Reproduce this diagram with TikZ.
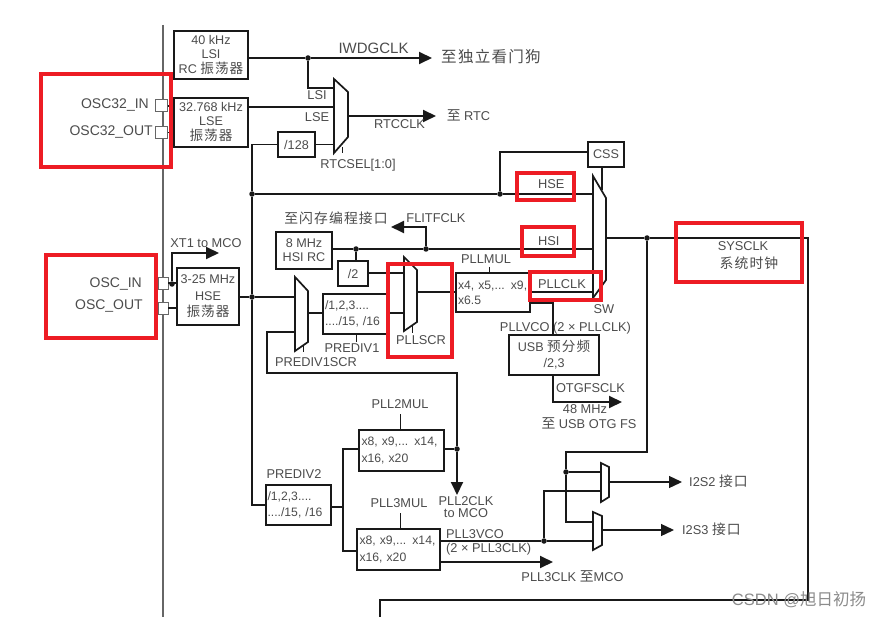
\documentclass[tikz,border=0pt]{standalone}
\usepackage{fontspec}
\setmainfont{Liberation Sans}
\newfontfamily\cjk[Scale=1.08,LetterSpace=8]{Noto Sans CJK SC}
\newfontfamily\cjw{Noto Sans CJK SC}
\usetikzlibrary{arrows.meta}
\colorlet{ink}{black!90}
\colorlet{txt}{black!70}
\definecolor{mark}{RGB}{237,28,36}
\tikzset{
  x=1pt,y=-1pt,
  box/.style={draw=ink,line width=2pt,fill=white,inner sep=0pt,outer sep=0pt,text=txt,font=\fontsize{12.6}{14}\selectfont,align=center},
  opt/.style={box,font=\fontsize{12.2}{15}\selectfont,align=left},
  pad/.style={draw=black!60,line width=1pt,fill=white,minimum width=12pt,minimum height=12pt,inner sep=0pt,outer sep=0pt},
  lab/.style={text=txt,font=\fontsize{12.8}{15}\selectfont,inner sep=0pt,align=center},
  pin/.style={lab,font=\fontsize{14}{16}\selectfont},
  wire/.style={draw=ink,line width=1.9pt,line join=miter},
  thin wire/.style={draw=ink,line width=1pt},
  arrowed/.style={wire,-{Triangle[length=13pt,width=12pt]}},
  muxs/.style={draw=ink,line width=1.7pt,fill=white,line join=miter},
  dot/.style={circle,fill=ink,minimum size=5.5pt,inner sep=0pt,outer sep=0pt},
  redbox/.style={draw=mark,line width=4pt,fill=none},
}
\newcommand{\cj}[1]{{\cjk #1}}
\begin{document}
\begin{tikzpicture}
\useasboundingbox[fill=white] (0,0) rectangle (882,617);
% pin rail
\draw[draw=black!60,line width=1.2pt] (163,25) -- (163,617);

% nodes: boxes
\node[box,minimum width=74pt,minimum height=48pt] (lsi) at (211,55) {40 kHz\\LSI\\[1pt]RC \cj{振荡器}};
\node[box,minimum width=74pt,minimum height=49pt] (lse) at (211,122.5) {32.768 kHz\\LSE\\[1pt]\cj{振荡器}};
\node[box,minimum width=37pt,minimum height=25pt] (d128) at (296.5,144.5) {/128};
\node[box,minimum width=36pt,minimum height=25pt] (css) at (606,154.5) {CSS};
\node[box,minimum width=62pt,minimum height=57pt] (hse) at (208,296.5) {3-25 MHz\\[3pt]HSE\\[2pt]\cj{振荡器}};
\node[box,minimum width=56pt,minimum height=37pt] (hsi) at (304,250.5) {8 MHz\\HSI RC};
\node[box,minimum width=30pt,minimum height=25pt] (d2) at (353,273.5) {/2};
\node[opt,minimum width=66pt,minimum height=40pt,text width=62pt] (pd1) at (356,314) {/1,2,3....\\[1pt]..../15, /16};
\node[opt,minimum width=74pt,minimum height=39pt,text width=70pt] (pllmul) at (493,292.5) {x4, x5,... x9,\\x6.5};
\node[box,minimum width=90pt,minimum height=40pt] (usb) at (554,355) {USB \cj{预分频}\\[2pt]/2,3};
\node[opt,minimum width=65pt,minimum height=40pt,text width=62pt] (pd2) at (298.5,505) {/1,2,3....\\[1pt]..../15, /16};
\node[opt,minimum width=85pt,minimum height=41pt,text width=80pt] (p2m) at (401.5,450.5) {x8, x9,... x14,\\[2pt]x16, x20};
\node[opt,minimum width=83pt,minimum height=41pt,text width=78pt] (p3m) at (398.5,549.5) {x8, x9,... x14,\\[2pt]x16, x20};

% pads
\node[pad] (o32i) at (161.5,106) {};
\node[pad] (o32o) at (161.5,132.5) {};
\node[pad,minimum width=10pt] (oi) at (163,283) {};
\node[pad,minimum width=10pt] (oo) at (163,308) {};

% junctions
\node[dot] (j1) at (308,58) {};
\node[dot] (j2) at (252,194) {};
\node[dot] (j3) at (500,194) {};
\node[dot] (j4) at (172,284) {};
\node[dot] (j5) at (252,297) {};
\node[dot] (j6) at (356,249) {};
\node[dot] (j7) at (426,249) {};
\node[dot] (j8) at (647,238) {};
\node[dot] (j9) at (457,449) {};
\node[dot] (j10) at (544,541) {};
\node[dot] (j11) at (566,472) {};

% free ends
\coordinate (iwdg) at (432,58);
\coordinate (rtc) at (436,116);
\coordinate (xt1) at (219,253);
\coordinate (fl) at (391,227);
\coordinate (otg) at (622,402);
\coordinate (p2out) at (457,495);
\coordinate (p3out) at (553,562);
\coordinate (i2s2) at (682,482);
\coordinate (i2s3) at (674,530);
\coordinate (bl) at (380,617);

% mux input and output points
\coordinate (rtcA) at (334,88);
\coordinate (rtcB) at (334,107);
\coordinate (rtcC) at (334,144.5);
\coordinate (rtcO) at (348,116);
\coordinate (swH) at (593,194);
\coordinate (swI) at (593,249);
\coordinate (swP) at (593,292);
\coordinate (swO) at (606,238);
\coordinate (swT) at (602,190);
\coordinate (psA) at (295,297);
\coordinate (psB) at (295,332);
\coordinate (psO) at (308,313);
\coordinate (plA) at (404,273);
\coordinate (plB) at (404,313);
\coordinate (plO) at (417,292);
\coordinate (s2A) at (601,472);
\coordinate (s2B) at (601,491);
\coordinate (s2O) at (609,482);
\coordinate (s3A) at (593,522);
\coordinate (s3B) at (593,541);
\coordinate (s3O) at (602,530);

% connectors
\draw[wire] (lsi.east |- j1) -- (j1);
\draw[arrowed] (j1) -- (iwdg);
\draw[wire] (j1) |- (rtcA);
\draw[wire] (lse.east |- rtcB) -- (rtcB);
\draw[wire] (d128.east) -- (rtcC);
\draw[arrowed] (rtcO) -- (rtc);
\draw[wire] (d128.west) -- (252,144.5) -- (j2);
\draw[wire] (j2) -- (j5);
\draw[wire] (j5) |- (pd2.west);
\draw[wire] (j2) -- (j3);
\draw[wire] (j3) -- (swH);
\draw[wire] (j3) |- (css.west |- 0,152);
\draw[wire] (css.south -| swT) -- (swT);
\draw[wire] (o32i.east) -- (lse.west |- o32i.east);
\draw[wire] (o32o.east) -- (lse.west |- o32o.east);
\draw[wire] (oi.east) -- (hse.west |- oi.east);
\draw[wire] (oo.east) -- (hse.west |- oo.east);
\draw[arrowed] (j4) |- (xt1);
\draw[wire] (hse.east |- j5) -- (j5);
\draw[wire] (j5) -- (psA);
\draw[wire] (psO) -- (pd1.west |- psO);
\draw[wire] (pd1.east |- plB) -- (plB);
\draw[wire] (d2.east |- plA) -- (plA);
\draw[wire] (j6) -- (d2.north -| j6);
\draw[wire] (hsi.east |- j6) -- (j6) -- (j7) -- (swI);
\draw[arrowed] (j7) |- (fl);
\draw[wire] (plO) -- (pllmul.west |- plO);
\draw[wire] (pllmul.east |- swP) -- (swP);
\draw[wire] (pllmul.east |- 0,303) -- (553,303) -- (usb.north -| 553,0);
\draw[arrowed] (usb.south -| 553,0) |- (otg);
\draw[wire] (psB) -- (267,332) -- (267,373) -- (457,373) -- (j9);
\draw[arrowed] (j9) -- (p2out);
\draw[wire] (p2m.east |- j9) -- (j9);
\draw[wire] (pd2.east |- 0,507) -- (343,507);
\draw[wire] (p2m.west |- j9) -- (343,449) -- (343,551) -- (p3m.west |- 0,551);
\draw[wire] (p3m.east |- j10) -- (j10) -- (s3B);
\draw[wire] (j10) |- (s2B);
\draw[arrowed] (p3m.east |- p3out) -- (p3out);
\draw[wire] (swO) -- (j8) -- (808,238) -- (808,600) -- (380,600) -- (bl);
\draw[wire] (j8) |- (566,452) -- (j11);
\draw[wire] (j11) -- (s2A);
\draw[wire] (j11) |- (s3A);
\draw[arrowed,line width=1.3pt] (s2O) -- (i2s2);
\draw[arrowed,line width=1.3pt] (s3O) -- (i2s3);

% muxes
\draw[muxs] (334,79) -- (348,92) -- (348,137) -- (334,153) -- cycle;
\draw[muxs] (593,176) -- (606,198) -- (606,280) -- (593,298) -- cycle;
\draw[muxs] (295,277) -- (308,291) -- (308,342) -- (295,351) -- cycle;
\draw[muxs] (404,257) -- (417,270) -- (417,322) -- (404,331) -- cycle;
\draw[muxs] (601,463) -- (609,467) -- (609,497) -- (601,502) -- cycle;
\draw[muxs] (593,512) -- (602,516) -- (602,545) -- (593,550) -- cycle;

% ticks
\draw[thin wire] (303,345) -- (303,352);
\draw[thin wire] (356,334) -- (356,342);
\draw[thin wire] (412,326) -- (412,333);
\draw[thin wire] (489,267) -- (489,273);
\draw[thin wire] (400,414) -- (400,430);
\draw[thin wire] (400,513) -- (400,529);
\draw[thin wire] (342,147) -- (342,153);

% labels
\node[pin,anchor=east] (tA) at (149,105) {OSC32\_IN};
\node[pin,anchor=east] (tB) at (153,132) {OSC32\_OUT};
\node[pin,anchor=east] (tC) at (142,284) {OSC\_IN};
\node[pin,anchor=east] (tD) at (143,306) {OSC\_OUT};
\node[lab,font=\fontsize{15}{16}\selectfont] (tE) at (373.5,48) {IWDGCLK};
\node[lab,font=\fontsize{14.4}{16}\selectfont] (tF) at (491,57) {\cj{至独立看门狗}};
\node[lab] (tG) at (317,95) {LSI};
\node[lab] (tH) at (317,117) {LSE};
\node[lab] (tI) at (399.5,124) {RTCCLK};
\node[lab] (tJ) at (468.5,115) {\cj{至} RTC};
\node[lab] (tK) at (358,165) {RTCSEL[1:0]};
\node[lab,anchor=west] (tL) at (538,184) {HSE};
\node[lab,anchor=west] (tM) at (538,241) {HSI};
\node[lab,anchor=west] (tN) at (538,284) {PLLCLK};
\node[lab] (tO) at (206,243) {XT1 to MCO};
\node[lab] (tP) at (336,218) {\cj{至闪存编程接口}};
\node[lab] (tQ) at (436,218) {FLITFCLK};
\node[lab] (tR) at (486,259) {PLLMUL};
\node[lab] (tS) at (316,362) {PREDIV1SCR};
\node[lab] (tT) at (352,348) {PREDIV1};
\node[lab] (tU) at (421,340) {PLLSCR};
\node[lab] (tV) at (604,309) {SW};
\node[lab] (tW) at (565.5,328) {PLLVCO (2 × PLLCLK)};
\node[lab] (tX) at (590.5,388) {OTGFSCLK};
\node[lab] (tY) at (585,409) {48 MHz};
\node[lab] (tZ) at (589,423) {\cj{至} USB OTG FS};
\node[lab] (sa) at (743,246) {SYSCLK};
\node[lab] (sb) at (749,263) {\cj{系统时钟}};
\node[lab] (sc) at (400,404) {PLL2MUL};
\node[lab] (sd) at (399,503) {PLL3MUL};
\node[lab] (se) at (294,474) {PREDIV2};
\node[lab] (sf) at (466,501) {PLL2CLK};
\node[lab] (sg) at (466,513) {to MCO};
\node[lab,anchor=west] (sh) at (446,534) {PLL3VCO};
\node[lab,anchor=west] (si) at (446,549) {(2 × PLL3CLK)};
\node[lab] (sj) at (572.5,576) {PLL3CLK \cj{至}MCO};
\node[lab] (sk) at (718.5,481) {I2S2 \cj{接口}};
\node[lab] (sl) at (711.5,529) {I2S3 \cj{接口}};

% red highlight frames
\draw[redbox] (41,74) rectangle (171,167);
\draw[redbox] (46,255) rectangle (156,338);
\draw[redbox] (517,173) rectangle (574,200);
\draw[redbox] (522,227) rectangle (574,256);
\draw[redbox] (530,272) rectangle (601,300);
\draw[redbox] (388,264) rectangle (452,357);
\draw[redbox] (676,223) rectangle (802,282);

% watermark
\node[lab,text=black!45,font=\fontsize{16.5}{18}\selectfont] (wm) at (799,600) {CSDN @{\cjw 旭日初扬}};
\end{tikzpicture}
\end{document}
